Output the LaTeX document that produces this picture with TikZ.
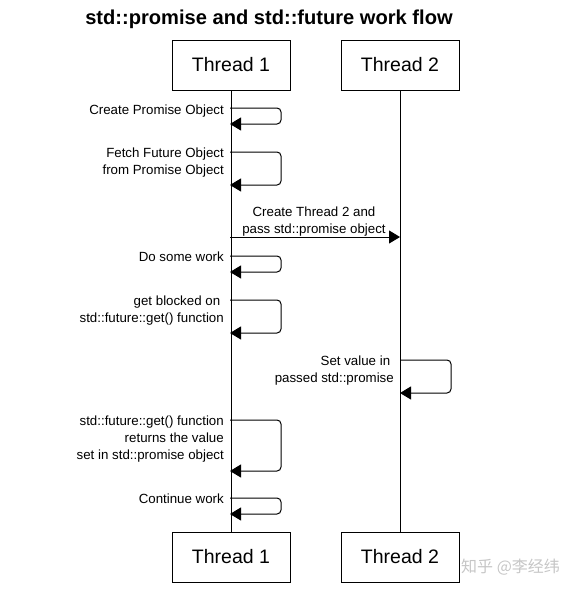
\documentclass[tikz,border=0pt]{standalone}
\usepackage{fontspec}
\setmainfont{Liberation Sans}
\newfontfamily\cjkfont{Noto Sans CJK SC}
\usetikzlibrary{arrows.meta,positioning}

\tikzset{
  thread/.style={draw, line width=1pt, minimum width=118pt, minimum height=50pt,
    font=\fontsize{19.5}{23}\selectfont},
  lifeline/.style={line width=1pt},
  msg/.style={line width=1pt, -{Triangle[length=11pt,width=13pt]}},
  selfmsg/.style={msg, rounded corners=4pt},
  note/.style={font=\fontsize{13.3}{17}\selectfont, align=right, anchor=north east, inner sep=0pt},
}

\begin{document}
\begin{tikzpicture}[x=1pt,y=-1pt]
    \useasboundingbox (0,0) rectangle (583,592);
    \node[font=\bfseries\fontsize{20.1}{24}\selectfont] (title) at (269,19) {std::promise and std::future work flow};
    % threads
    \node[thread] (t1top) at (231,65) {Thread 1};
    \node[thread] (t2top) at (400,65) {Thread 2};
    \node[thread] (t1bot) at (231,557) {Thread 1};
    \node[thread] (t2bot) at (400,557) {Thread 2};
    \draw[lifeline] (t1top) -- (t1bot);
    \draw[lifeline] (t2top) -- (t2bot);
    % thread 1 steps
    \node[note] (create) at (224,104.5) {Create Promise Object};
    \draw[selfmsg] (230,108) -- (281,108) -- (281,124) -- (230,124);
    \node[note] (fetch) at (224,147.5) {Fetch Future Object\\from Promise Object};
    \draw[selfmsg] (230,152) -- (281,152) -- (281,185) -- (230,185);
    \node[font=\fontsize{13.3}{17}\selectfont, align=center, inner sep=0pt] (spawn) at (314,222) {Create Thread 2 and\\pass std::promise object};
    \coordinate (from1) at (230,237);
    \coordinate (to2) at (400,237);
    \draw[msg] (from1) -- (to2);
    \node[note] (work) at (224,251.5) {Do some work};
    \draw[selfmsg] (230,256) -- (281,256) -- (281,272) -- (230,272);
    \node[note] (block) at (224,295.5) {get blocked on\hspace*{3.6pt}\\std::future::get() function};
    \draw[selfmsg] (230,300) -- (281,300) -- (281,333) -- (230,333);
    % thread 2 step
    \node[note] (setval) at (394,355.5) {Set value in\hspace*{3.6pt}\\passed std::promise};
    \draw[selfmsg] (400,360) -- (451,360) -- (451,393) -- (400,393);
    % back in thread 1
    \node[note] (ret) at (224,415.5) {std::future::get() function\\returns the value\hspace*{3.6pt}\\set in std::promise object};
    \draw[selfmsg] (230,420) -- (281,420) -- (281,471) -- (230,471);
    \node[note] (cont) at (224,493.5) {Continue work};
    \draw[selfmsg] (230,498) -- (281,498) -- (281,514) -- (230,514);
    % watermark
    \node[anchor=west, text=gray!45, font=\cjkfont\fontsize{16}{18}\selectfont, inner sep=0pt] (mark) at (461,567) {知乎 @李经纬};
\end{tikzpicture}
\end{document}
